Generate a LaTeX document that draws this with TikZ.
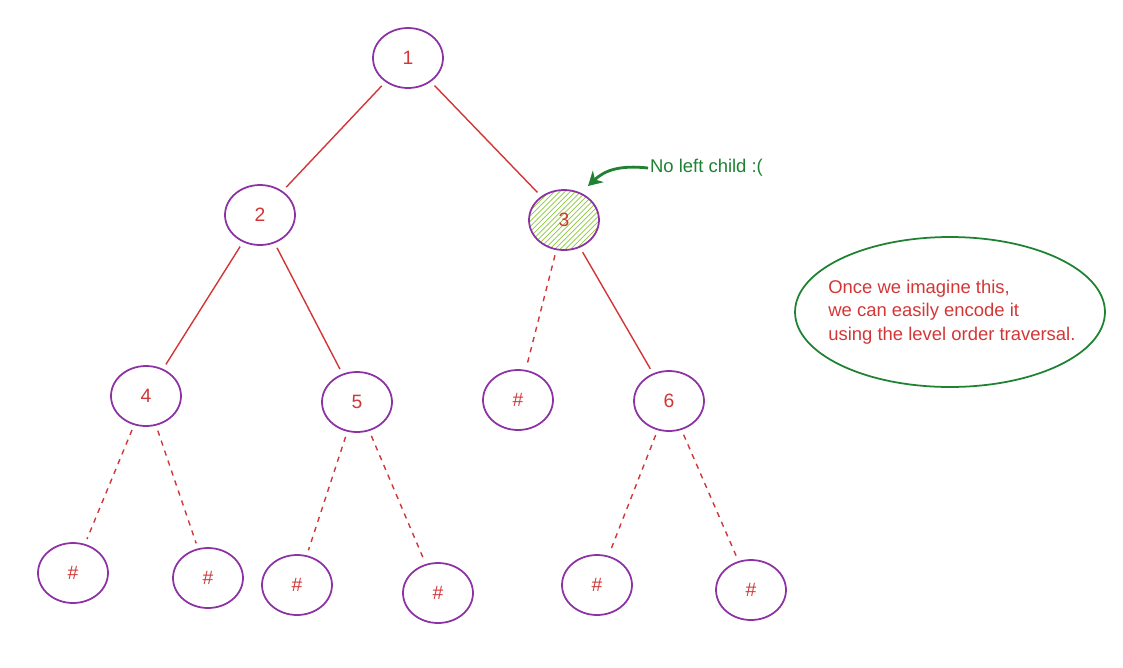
\documentclass[tikz,border=0pt]{standalone}
\usepackage{fontspec}
\setmainfont{Liberation Sans}
\usetikzlibrary{patterns,shapes.geometric,arrows.meta}
\definecolor{rd}{RGB}{210,55,55}
\definecolor{pu}{RGB}{140,50,165}
\definecolor{gr}{RGB}{30,130,50}
\definecolor{lg}{RGB}{140,200,60}
\begin{document}
\begin{tikzpicture}[x=0.02cm,y=-0.02cm,
  tn/.style={ellipse,draw=pu,line width=1pt,minimum width=1.4cm,minimum height=1.2cm,text=rd,font=\fontsize{11}{13}\selectfont,inner sep=0pt},
  se/.style={draw=rd,line width=0.8pt,shorten <=3pt,shorten >=3pt},
  de/.style={se,dashed}]
\useasboundingbox (0,0) rectangle (1123,667);
\node[tn] (n1) at (408,58) {1};
\node[tn] (n2) at (260,215) {2};
\node[tn,pattern=north east lines,pattern color=lg] (n3) at (564,220) {3};
\node[tn] (n4) at (146,396) {4};
\node[tn] (n5) at (357,402) {5};
\node[tn] (h0) at (518,400) {\#};
\node[tn] (n6) at (669,401) {6};
\node[tn] (h1) at (73,573) {\#};
\node[tn] (h2) at (208,578) {\#};
\node[tn] (h3) at (297,585) {\#};
\node[tn] (h4) at (438,593) {\#};
\node[tn] (h5) at (597,585) {\#};
\node[tn] (h6) at (751,590) {\#};
\draw[se] (n1)--(n2); \draw[se] (n1)--(n3);
\draw[se] (n2)--(n4); \draw[se] (n2)--(n5);
\draw[se] (n3)--(n6);
\draw[de] (n3)--(h0);
\draw[de] (n4)--(h1); \draw[de] (n4)--(h2);
\draw[de] (n5)--(h3); \draw[de] (n5)--(h4);
\draw[de] (n6)--(h5); \draw[de] (n6)--(h6);
\node[anchor=west,text=gr,font=\fontsize{10.5}{12}\selectfont,inner sep=1pt] (lab) at (648,168) {No left child :(};
\draw[gr,line width=1.6pt,-{Stealth[length=8pt,width=9pt]}] (lab.west) .. controls (620,165) and (605,170) .. (588,186);
\node[ellipse,draw=gr,line width=1pt,minimum width=6.2cm,minimum height=3cm] (el) at (950,312) {};
\node[anchor=west,align=left,text=rd,font=\fontsize{10.5}{13.5}\selectfont,inner sep=0pt] (tx) at (828,312) {Once we imagine this,\\we can easily encode it\\using the level order traversal.};
\end{tikzpicture}
\end{document}
